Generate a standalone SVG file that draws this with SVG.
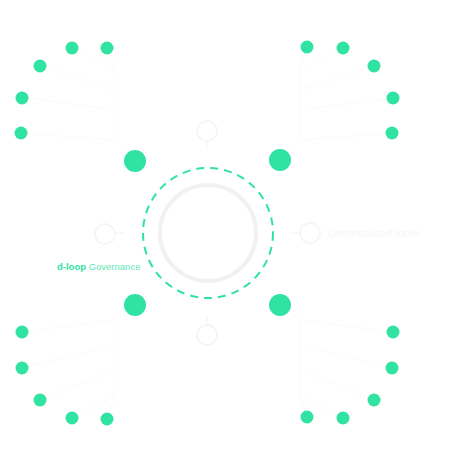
<svg xmlns="http://www.w3.org/2000/svg" width="474" height="474" viewBox="0 0 474 474">
<style>
.dot{fill:#30e3a2}
.big{fill:#30e3a2}
.ring{fill:#fff;stroke:#f4f4f4;stroke-width:1.5}
.faint{stroke:#fbfbfb;stroke-width:1;fill:none}
.lbl{font-family:"Liberation Sans",Arial,sans-serif;font-size:9.5px}
</style>
<rect width="474" height="474" fill="#fff"/>
<g id="connectors" class="faint">
<path d="M135 160 L115 140 L21 133"/>
<path d="M115 140 L115 70 L107 48"/>
<path d="M115 110 L22 97"/>
<path d="M115 90 L40 66"/>
<path d="M115 70 L72 48"/>
<path d="M280 160 L300 140 L392 133"/>
<path d="M300 140 L300 70 L307 47"/>
<path d="M300 110 L393 98"/>
<path d="M300 90 L374 66"/>
<path d="M300 70 L343 48"/>
<path d="M135 305 L115 320 L22 332"/>
<path d="M115 320 L115 395 L107 419"/>
<path d="M115 345 L22 368"/>
<path d="M115 370 L40 400"/>
<path d="M115 395 L72 418"/>
<path d="M280 305 L300 320 L393 332"/>
<path d="M300 320 L300 395 L307 417"/>
<path d="M300 345 L392 368"/>
<path d="M300 370 L374 400"/>
<path d="M300 395 L343 418"/>
<path d="M207 142 L207 150" stroke="#f2f2f2"/>
<path d="M207 316 L207 324" stroke="#f2f2f2"/>
<path d="M116 233 L124 233" stroke="#f2f2f2"/>
<path d="M290 233 L299 233" stroke="#f2f2f2"/>
</g>
<g id="core">
<circle cx="208" cy="233" r="48" fill="#fff" stroke="#f1f1f1" stroke-width="4"/>
<circle cx="208" cy="233" r="65" fill="none" stroke="#30e3a2" stroke-width="2" stroke-dasharray="8 6"/>
</g>
<g id="ring-top"><circle class="ring" cx="207" cy="131" r="10"/></g>
<g id="ring-bottom"><circle class="ring" cx="207" cy="335" r="10"/></g>
<g id="ring-left"><circle class="ring" cx="105" cy="234" r="10"/></g>
<g id="ring-right"><circle class="ring" cx="310" cy="233" r="10"/><text class="lbl" x="328" y="237" fill="#f6f6f6" style="font-size:10.5px">Decentralised Index</text></g>
<g id="label-left"><text class="lbl" x="57" y="270" fill="#30e3a2"><tspan font-weight="bold">d-loop</tspan> <tspan fill="#5ee8b6">Governance</tspan></text></g>
<g id="hub-tl"><circle class="big" cx="135" cy="161" r="11"/></g>
<g id="hub-tr"><circle class="big" cx="280" cy="160" r="11"/></g>
<g id="hub-bl"><circle class="big" cx="135" cy="305" r="11"/></g>
<g id="hub-br"><circle class="big" cx="280" cy="305" r="11"/></g>
<g id="dots-tl">
<circle class="dot" cx="72" cy="48" r="6.5"/><circle class="dot" cx="107" cy="48" r="6.5"/><circle class="dot" cx="40" cy="66" r="6.5"/><circle class="dot" cx="22" cy="98" r="6.5"/><circle class="dot" cx="21" cy="133" r="6.5"/>
</g>
<g id="dots-tr">
<circle class="dot" cx="307" cy="47" r="6.5"/><circle class="dot" cx="343" cy="48" r="6.5"/><circle class="dot" cx="374" cy="66" r="6.5"/><circle class="dot" cx="393" cy="98" r="6.5"/><circle class="dot" cx="392" cy="133" r="6.5"/>
</g>
<g id="dots-bl">
<circle class="dot" cx="22" cy="332" r="6.5"/><circle class="dot" cx="22" cy="368" r="6.5"/><circle class="dot" cx="40" cy="400" r="6.5"/><circle class="dot" cx="72" cy="418" r="6.5"/><circle class="dot" cx="107" cy="419" r="6.5"/>
</g>
<g id="dots-br">
<circle class="dot" cx="393" cy="332" r="6.5"/><circle class="dot" cx="392" cy="368" r="6.5"/><circle class="dot" cx="374" cy="400" r="6.5"/><circle class="dot" cx="307" cy="417" r="6.5"/><circle class="dot" cx="343" cy="418" r="6.5"/>
</g>
</svg>
